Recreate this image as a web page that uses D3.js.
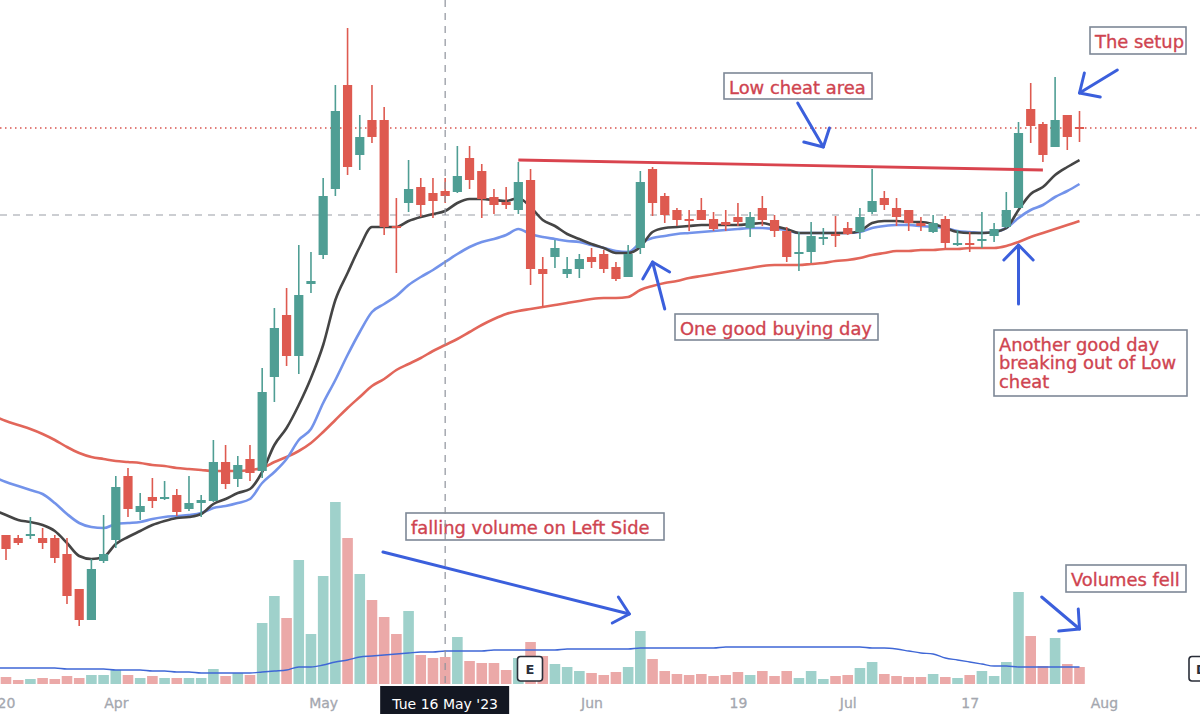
<!DOCTYPE html>
<html>
<head>
<meta charset="utf-8">
<script src="https://cdn.jsdelivr.net/npm/d3@7"></script>
<style>
  html, body { margin: 0; padding: 0; background: #fff; }
  svg { display: block; }
</style>
</head>
<body>
<svg id="chart" width="1200" height="714"></svg>
<script>
// daily candles, 20 Mar to 28 Jul 2023
const opens = [165,162,165,162,162,146,111,80,139,160,224,188,203,202,205,191,197,199,238,221,241,229,323,385,344,416,445,511,615,545,580,580,474,497,513,507,509,508,542,529,503,498,490,520,431,443,426,431,443,446,433,423,452,531,504,490,481,490,481,478,483,472,492,480,469,446,448,462,466,472,468,488,502,492,490,477,468,481,455,457,460,464,473,492,591,576,553,585,573]
const highs = [165,165,183,172,165,162,111,141,185,224,232,207,222,219,211,224,205,260,255,244,255,332,392,412,455,448,522,615,672,585,615,593,502,540,522,522,522,554,554,536,511,513,538,531,443,460,443,446,452,450,438,455,529,533,507,492,490,502,488,490,497,488,504,485,473,468,478,472,484,478,492,531,509,502,490,483,485,484,470,468,488,477,508,578,617,578,623,585,589]
const lows = [140,155,161,151,137,96,74,80,137,152,183,180,192,200,184,189,183,198,211,213,219,222,298,334,326,407,441,504,525,530,557,465,427,488,483,482,497,507,511,482,486,491,486,415,393,432,422,422,432,427,419,423,446,484,477,474,469,480,469,469,474,463,474,463,438,429,437,455,453,465,461,486,490,474,469,469,467,452,454,448,452,458,472,492,557,538,553,550,558]
const closes = [151,157,166,157,142,104,80,131,146,213,191,194,199,203,188,197,200,238,216,235,227,308,372,344,405,419,504,589,533,563,563,473,472,511,495,499,504,524,520,501,495,495,518,431,426,452,431,441,438,431,421,446,518,497,485,480,479,480,471,475,478,483,480,469,443,448,464,463,465,466,483,499,495,483,477,474,477,457,457,455,461,471,490,567,574,545,580,563,572]

const volumes = [7,4,5,6,5,8,6,9,9,14,9,6,8,6,6,6,6,15,8,11,9,61,88,66,124,50,108,182,146,110,84,67,50,73,29,26,27,47,23,21,21,14,26,42,28,20,17,13,11,9,12,17,53,25,13,10,9,10,8,9,12,9,13,8,13,6,13,5,8,9,16,22,10,8,7,7,10,7,6,9,13,8,22,92,48,18,46,20,17]

// moving averages start one session before the first candle, off the left edge
const maFast = [190,185,180,178,175,169,157,144,141,143,156,163,169,175,179,182,183,186,196,201,207,211,228,255,272,295,322,355,400,427,453,473,473,473,479,483,486,489,497,501,501,500,499,502,493,480,474,466,461,456,452,447,447,453,468,472,473,474,475,475,475,475,476,477,474,471,467,467,467,467,467,469,477,479,479,478,478,476,472,468,467,467,468,472,490,506,513,525,533,540]
const maMid = [223,218,214,210,206,197,186,177,173,172,176,177,178,181,183,184,185,187,192,194,197,201,217,228,241,260,271,297,320,345,368,388,396,404,415,423,430,438,446,453,458,461,465,471,466,463,461,459,458,455,452,449,448,457,462,464,466,467,468,469,470,471,472,472,471,470,467,467,467,467,467,468,472,474,475,475,474,473,472,469,468,467,468,472,482,490,495,503,509,516]
const maSlow = [284,279,275,271,266,260,253,247,243,241,239,238,237,235,234,232,231,230,229,229,229,230,232,238,243,249,257,268,280,292,303,314,321,330,336,342,349,355,361,368,375,381,386,389,391,393,395,397,399,401,402,402,403,410,414,417,419,422,424,426,428,430,432,434,435,435,435,436,437,439,440,442,445,447,449,449,450,450,451,451,452,452,452,454,458,463,467,471,475,479]
const volumeMa = [16,16,16,16,16,16,15,15,15,15,14,14,14,13,13,12,12,11,11,11,11,11,12,13,14,17,17,19,22,24,27,28,29,30,31,32,32,33,33,33,33,34,34,34,34,34,34,35,35,35,35,35,35,36,36,36,36,36,36,36,37,37,37,37,37,37,37,37,37,37,37,37,36,36,35,33,31,30,26,24,22,20,18,18,17,17,17,17,17,17]

const tickBars = [0,9,26,48,60,69,79,90]
const tickLabels = ['20','Apr','May','Jun','19','Jul','17','Aug']

const lastPrice = 572
const crossPrice = 485
const crossBar = 36
const crossLabel = "Tue 16 May '23"

// hand drawn overlay, as [bar, price]
const trendLine = [[42,540],[85,530]]
const arrowShafts = [
    [[30.9,148],[51.1,86]],
    [[64.9,597],[67,553]],
    [[91.1,630],[88,607]],
    [[54,391],[53,438]],
    [[83,396],[83,455]],
    [[84.9,103],[88,71]]
]
const arrowHeads = [
    [[50.2,103],[51.1,86],[49.7,77]],
    [[65.4,558],[67,553],[67.5,572]],
    [[88.4,627],[88,607],[89.7,603]],
    [[52.2,421],[53,438],[54.4,428]],
    [[81.8,440],[83,455],[84.2,440]],
    [[87.9,91],[88,71],[86.3,69]]
]

const notes = [
    {lines:['The setup'], x:1090, y:27, w:96, h:27},
    {lines:['Low cheat area'], x:724, y:73, w:148, h:26},
    {lines:['One good buying day'], x:675, y:314, w:203, h:26},
    {lines:['Another good day','breaking out of Low','cheat'], x:994, y:330, w:193, h:66},
    {lines:['falling volume on Left Side'], x:406, y:513, w:258, h:27},
    {lines:['Volumes fell'], x:1066, y:565, w:120, h:27}
]

const width = 1200, height = 714
const volumeBase = 684
const color_up = '#4f9e94', color_down = '#de5a50'
const color_note = '#cf4450', color_arrow = '#3b5fdc'
const font = '"DejaVu Sans", sans-serif'

const svg = d3.select('#chart')

const x = d3.scaleLinear().domain([0,88]).range([6,1079.5])
const y = d3.scaleLinear().domain([0,700]).range([700,0])
const yVol = d3.scaleLinear().domain([0,200]).range([volumeBase,volumeBase-200])

const candles = opens.map((o,i)=>({i, o, h:highs[i], l:lows[i], c:closes[i], v:volumes[i], up:closes[i]>=o}))

/* volume */
svg.append('g').selectAll('rect')
    .data(candles)
    .join('rect')
    .attr('x', d=>x(d.i)-5.3)
    .attr('width', 10.6)
    .attr('y', d=>yVol(d.v))
    .attr('height', d=>volumeBase-yVol(d.v))
    .attr('fill', d=>d.up?'#9fd1cb':'#eba9a8')

svg.append('path')
    .attr('d', d3.line().x((d,i)=>x(i-1)).y(d=>yVol(d)).curve(d3.curveMonotoneX)(volumeMa))
    .attr('fill', 'none')
    .attr('stroke', '#3f67d6')
    .attr('stroke-width', 1.3)

/* reference lines */
svg.append('line')
    .attr('x1', 0).attr('x2', width)
    .attr('y1', y(lastPrice)).attr('y2', y(lastPrice))
    .attr('stroke', '#d9534f')
    .attr('stroke-width', 1.3)
    .attr('stroke-dasharray', '1.5 3.5')

svg.append('line')
    .attr('x1', 0).attr('x2', width)
    .attr('y1', y(crossPrice)).attr('y2', y(crossPrice))
    .attr('stroke', '#9a9da6')
    .attr('stroke-width', 1.2)
    .attr('stroke-dasharray', '7 6')

/* moving averages */
const maLine = d3.line().x((d,i)=>x(i-1)).y(d=>y(d)).curve(d3.curveMonotoneX)
svg.selectAll('.ma')
    .data([[maSlow,'#e2665a'],[maMid,'#7393ea'],[maFast,'#454545']])
    .join('path')
    .classed('ma', true)
    .attr('d', d=>maLine(d[0]))
    .attr('fill', 'none')
    .attr('stroke', d=>d[1])
    .attr('stroke-width', 2.6)

/* candles */
const candle = svg.append('g').selectAll('g')
    .data(candles)
    .join('g')

candle.append('line')
    .attr('x1', d=>x(d.i)).attr('x2', d=>x(d.i))
    .attr('y1', d=>y(d.h)).attr('y2', d=>y(d.l))
    .attr('stroke', d=>d.up?color_up:color_down)
    .attr('stroke-width', 1.6)

candle.append('rect')
    .attr('x', d=>x(d.i)-4.6)
    .attr('width', 9.2)
    .attr('y', d=>y(Math.max(d.o,d.c)))
    .attr('height', d=>Math.max(Math.abs(y(d.o)-y(d.c)),2))
    .attr('fill', d=>d.up?color_up:color_down)

/* overlay: trend line and arrows */
svg.append('line')
    .attr('x1', x(trendLine[0][0])).attr('y1', y(trendLine[0][1]))
    .attr('x2', x(trendLine[1][0])).attr('y2', y(trendLine[1][1]))
    .attr('stroke', '#d9444e')
    .attr('stroke-width', 2.8)

const penLine = d3.line().x(d=>x(d[0])).y(d=>y(d[1]))
svg.append('g').selectAll('path')
    .data(arrowShafts.concat(arrowHeads))
    .join('path')
    .attr('d', d=>penLine(d))
    .attr('fill', 'none')
    .attr('stroke', color_arrow)
    .attr('stroke-width', 3)
    .attr('stroke-linecap', 'round')
    .attr('stroke-linejoin', 'round')

/* note boxes */
const note = svg.append('g').selectAll('g')
    .data(notes)
    .join('g')
    .attr('transform', d=>`translate(${d.x},${d.y})`)

note.append('rect')
    .attr('width', d=>d.w)
    .attr('height', d=>d.h)
    .attr('fill', '#fff')
    .attr('stroke', '#7d8896')
    .attr('stroke-width', 1.6)

note.selectAll('text')
    .data(d=>d.lines)
    .join('text')
    .attr('x', 5)
    .attr('y', (d,i)=>20.5+i*18.6)
    .attr('fill', color_note)
    .attr('stroke', color_note)
    .attr('stroke-width', 0.35)
    .style('font-family', font)
    .style('font-size', '17.9px')
    .text(d=>d)

/* earnings and dividend badges */
const badge = svg.append('g').selectAll('g')
    .data([['E',517.5],['D',1189]])
    .join('g')
    .attr('transform', d=>`translate(${d[1]},656.5)`)

badge.append('rect')
    .attr('width', 25)
    .attr('height', 24.5)
    .attr('rx', 3)
    .attr('fill', '#fff')
    .attr('stroke', '#2a2e39')
    .attr('stroke-width', 1.6)

badge.append('text')
    .attr('x', 12.5)
    .attr('y', 17)
    .attr('text-anchor', 'middle')
    .attr('fill', '#2a2e39')
    .style('font-family', font)
    .style('font-size', '13px')
    .style('font-weight', 600)
    .text(d=>d[0])

/* crosshair */
svg.append('line')
    .attr('x1', x(crossBar)).attr('x2', x(crossBar))
    .attr('y1', 0).attr('y2', volumeBase)
    .attr('stroke', '#8f929b')
    .attr('stroke-width', 1.2)
    .attr('stroke-dasharray', '7 6')

/* time axis */
const axis = svg.append('g')
    .attr('transform', `translate(0,${volumeBase+11})`)
    .call(d3.axisBottom(x)
        .tickValues(tickBars)
        .tickFormat((d,i)=>tickLabels[i])
        .tickSize(0))
axis.select('.domain').remove()
axis.selectAll('text')
    .attr('fill', '#a4a7af')
    .attr('stroke', '#a4a7af')
    .attr('stroke-width', 0.3)
    .style('font-family', font)
    .style('font-size', '14px')

/* crosshair date */
svg.append('rect')
    .attr('x', x(crossBar)-65).attr('y', 686)
    .attr('width', 129).attr('height', 28)
    .attr('fill', '#131722')

svg.append('text')
    .attr('x', x(crossBar)).attr('y', 709)
    .attr('text-anchor', 'middle')
    .attr('fill', '#fff')
    .style('font-family', font)
    .style('font-size', '14px')
    .text(crossLabel)
</script>
</body>
</html>
